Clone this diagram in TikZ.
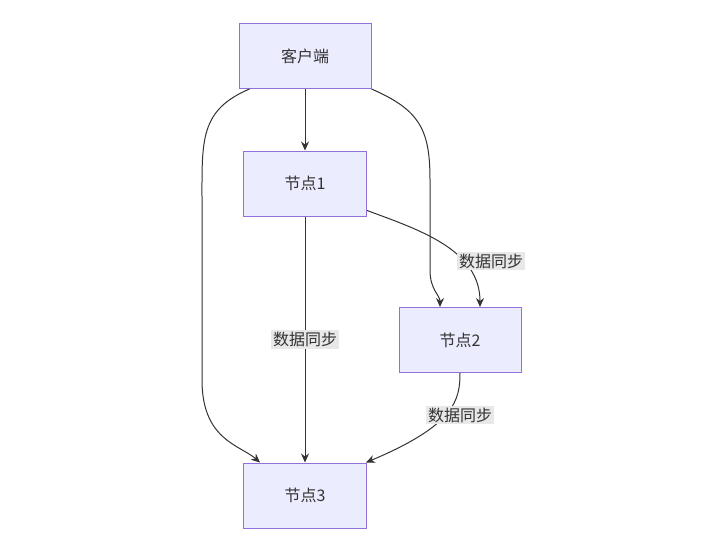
\documentclass[tikz,border=0pt]{standalone}
\usepackage{fontspec}
\setmainfont{Noto Sans CJK SC}
\usetikzlibrary{arrows.meta}
\definecolor{nfill}{HTML}{ECECFF}
\definecolor{nline}{HTML}{9370DB}
\definecolor{ed}{HTML}{333333}
\definecolor{lbl}{HTML}{E8E8E8}
\begin{document}
\begin{tikzpicture}[x=1pt,y=-1pt,
  box/.style={draw=nline,fill=nfill,line width=1pt,minimum height=65pt,inner sep=0pt,font=\fontsize{16}{19}\selectfont,text=ed},
  e/.style={draw=ed,line width=1pt,-{Stealth[length=9pt,width=8pt]}},
  lab/.style={fill=lbl,inner sep=2pt,font=\fontsize{16}{19}\selectfont,text=ed}]
\useasboundingbox[fill=white] (0,0) rectangle (725,555);
\node[box,minimum width=132pt] (c) at (305,56) {客户端};
\node[box,minimum width=123pt] (n1) at (305,183.5) {节点1};
\node[box,minimum width=122pt] (n2) at (460,340) {节点2};
\node[box,minimum width=123pt] (n3) at (305,495.5) {节点3};
\draw[e] (c) -- (n1);
\draw[e] (c.south west)++(11,0) .. controls (200,110) and (202,140) .. (202,200) -- (202,380) .. controls (202,440) and (240,445) .. ([xshift=-45pt]n3.north);
\draw[e] (c.south east) .. controls (420,110) and (430,130) .. (430,180) -- (430,270) .. controls (430,290) and (440,295) .. ([xshift=-20pt]n2.north);
\draw[e] ([yshift=-27pt]n1.east) .. controls (420,230) and (480,250) .. coordinate[pos=0.78](m) ([xshift=20pt]n2.north);
\node[lab] at (491,261) {数据同步};
\draw[e] (n1) -- node[lab]{数据同步} (n3);
\draw[e] (n2.south) .. controls (460,400) and (455,425) .. ([xshift=61pt]n3.north);
\node[lab] at (460,415) {数据同步};
\end{tikzpicture}
\end{document}
